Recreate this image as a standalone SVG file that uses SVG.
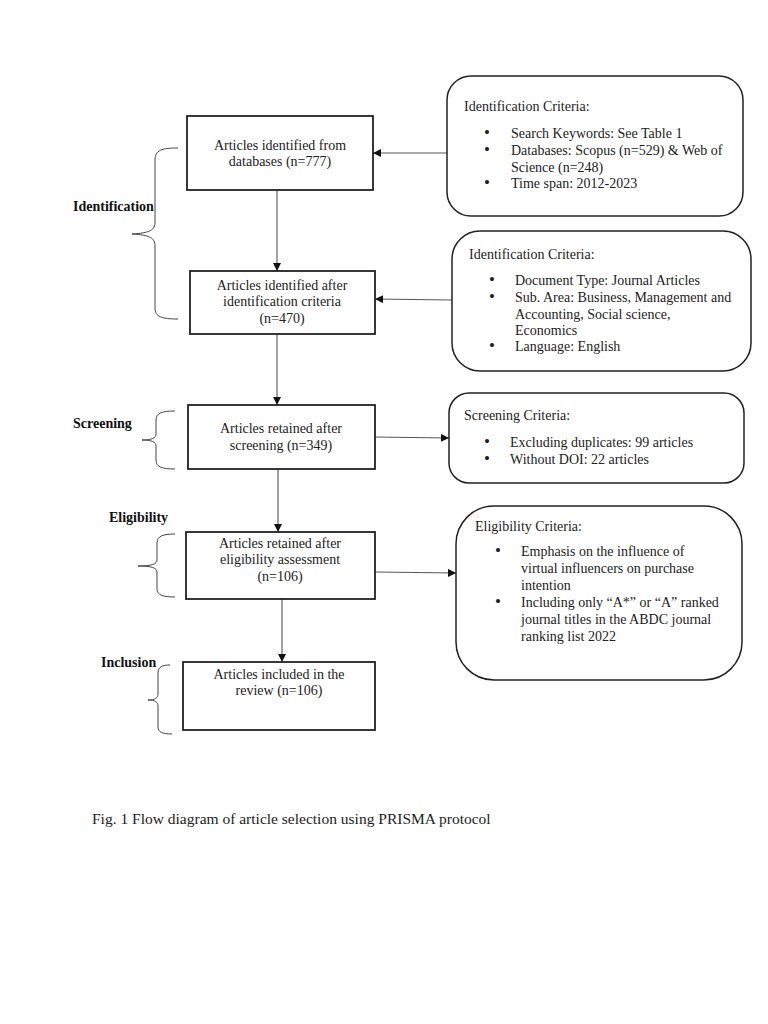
<svg xmlns="http://www.w3.org/2000/svg" width="768" height="1024" viewBox="0 0 768 1024">
<defs>
<style>
text{font-family:"Liberation Serif","Times New Roman",serif;font-size:14px;fill:#222}
.c{text-anchor:middle}
.b{font-weight:bold;fill:#111}
.dot{font-size:17px}
.box{fill:#fff;stroke:#222;stroke-width:1.8}
.rb{fill:#fff;stroke:#222;stroke-width:1.5}
.ln{fill:none;stroke:#555;stroke-width:1.1}
.br{fill:none;stroke:#444;stroke-width:1}
.cap{font-size:15.5px}
</style>
<marker id="ah" viewBox="0 0 10 10" refX="10" refY="5" markerWidth="8" markerHeight="8" markerUnits="userSpaceOnUse" orient="auto">
<path d="M0,0 L10,5 L0,10 z" fill="#111"/>
</marker>
</defs>
<rect width="768" height="1024" fill="#fff"/>

<g id="connectors">
<line class="ln" x1="277" y1="190" x2="277" y2="271" marker-end="url(#ah)"/>
<line class="ln" x1="277" y1="334" x2="277" y2="405" marker-end="url(#ah)"/>
<line class="ln" x1="278" y1="469" x2="278" y2="532" marker-end="url(#ah)"/>
<line class="ln" x1="282" y1="599" x2="282" y2="662" marker-end="url(#ah)"/>
<line class="ln" x1="447" y1="153" x2="373" y2="153" marker-end="url(#ah)"/>
<line class="ln" x1="452" y1="300" x2="375" y2="299" marker-end="url(#ah)"/>
<line class="ln" x1="375" y1="437" x2="449" y2="438" marker-end="url(#ah)"/>
<line class="ln" x1="375" y1="572" x2="456" y2="573" marker-end="url(#ah)"/>
</g>

<g id="braces">
<path class="br" d="M178,148 C162,148 155,150 155,160 L155,222 C155,230 150,233 132,234 C150,235 155,238 155,246 L155,308 C155,317 162,319 178,319"/>
<path class="br" d="M175,411 C162,411 156,413 156,420 L156,434 C156,438 152,440 142,440 C152,440 156,442 156,446 L156,460 C156,467 162,469 175,469"/>
<path class="br" d="M175,534 C163,534 157,536 157,543 L157,560 C157,564 152,566 138,566 C152,566 157,568 157,572 L157,589 C157,595 163,597 175,597"/>
<path class="br" d="M170,665 C162,665 158,667 158,673 L158,694 C158,698 155,700 148,700 C155,700 158,702 158,706 L158,727 C158,732 162,734 172,734"/>
</g>

<g id="labels">
<text class="b" x="73" y="211">Identification</text>
<text class="b" x="73" y="428">Screening</text>
<text class="b" x="109" y="522">Eligibility</text>
<text class="b" x="101" y="667">Inclusion</text>
</g>

<g id="n1">
<rect class="box" x="187" y="116" width="186" height="74"/>
<text class="c" x="280" y="150">Articles identified from</text>
<text class="c" x="280" y="166">databases (n=777)</text>
</g>
<g id="n2">
<rect class="box" x="190" y="271" width="185" height="63"/>
<text class="c" x="282" y="290">Articles identified after</text>
<text class="c" x="282" y="306">identification criteria</text>
<text class="c" x="282" y="323">(n=470)</text>
</g>
<g id="n3">
<rect class="box" x="188" y="405" width="187" height="64"/>
<text class="c" x="281" y="433">Articles retained after</text>
<text class="c" x="281" y="450">screening (n=349)</text>
</g>
<g id="n4">
<rect class="box" x="186" y="532" width="189" height="67"/>
<text class="c" x="280" y="548">Articles retained after</text>
<text class="c" x="280" y="564">eligibility assessment</text>
<text class="c" x="280" y="581">(n=106)</text>
</g>
<g id="n5">
<rect class="box" x="183" y="662" width="192" height="68"/>
<text class="c" x="279" y="679">Articles included in the</text>
<text class="c" x="279" y="695">review (n=106)</text>
</g>

<g id="cA">
<rect class="rb" x="447" y="76" width="296" height="140" rx="24"/>
<text x="464" y="111">Identification Criteria:</text>
<text class="dot" x="484" y="138">•</text><text x="511" y="138">Search Keywords: See Table 1</text>
<text class="dot" x="484" y="155">•</text><text x="511" y="155">Databases: Scopus (n=529) &amp; Web of</text>
<text x="511" y="172">Science (n=248)</text>
<text class="dot" x="484" y="188">•</text><text x="511" y="188">Time span: 2012-2023</text>
</g>
<g id="cB">
<rect class="rb" x="452" y="231" width="299" height="140" rx="28"/>
<text x="469" y="259">Identification Criteria:</text>
<text class="dot" x="489" y="285">•</text><text x="515" y="285">Document Type: Journal Articles</text>
<text class="dot" x="489" y="302">•</text><text x="515" y="302">Sub. Area: Business, Management and</text>
<text x="515" y="319">Accounting, Social science,</text>
<text x="515" y="335">Economics</text>
<text class="dot" x="489" y="351">•</text><text x="515" y="351">Language: English</text>
</g>
<g id="cC">
<rect class="rb" x="449" y="393" width="295" height="90" rx="20"/>
<text x="464" y="420">Screening Criteria:</text>
<text class="dot" x="484" y="447">•</text><text x="510" y="447">Excluding duplicates: 99 articles</text>
<text class="dot" x="484" y="464">•</text><text x="510" y="464">Without DOI: 22 articles</text>
</g>
<g id="cD">
<rect class="rb" x="456" y="506" width="286" height="174" rx="38"/>
<text x="475" y="531">Eligibility Criteria:</text>
<text class="dot" x="495" y="556">•</text><text x="521" y="556">Emphasis on the influence of</text>
<text x="521" y="573">virtual influencers on purchase</text>
<text x="521" y="590">intention</text>
<text class="dot" x="495" y="607">•</text><text x="521" y="607">Including only “A*” or “A” ranked</text>
<text x="521" y="624">journal titles in the ABDC journal</text>
<text x="521" y="641">ranking list 2022</text>
</g>

<text class="cap" x="92" y="824">Fig. 1 Flow diagram of article selection using PRISMA protocol</text>
</svg>
